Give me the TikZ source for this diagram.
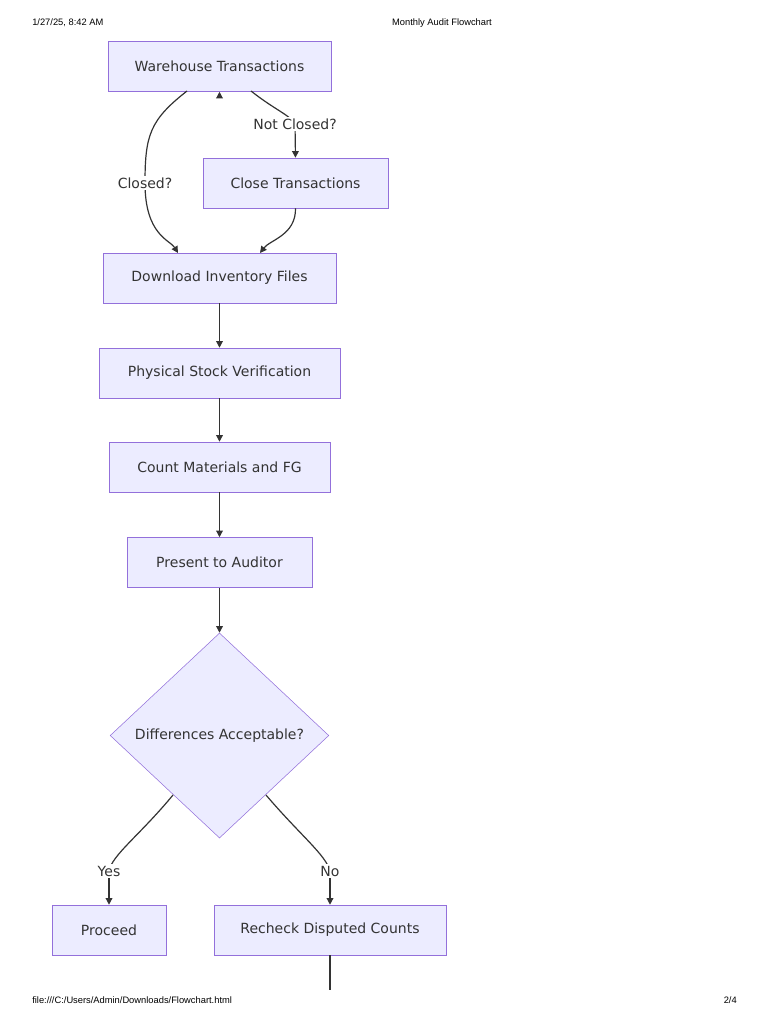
\documentclass[tikz,border=0pt]{standalone}
\usepackage{fontspec}
\setmainfont{DejaVu Sans}
\newfontfamily\hdr{Liberation Sans}
\usetikzlibrary{shapes.geometric,arrows.meta}
\definecolor{nfill}{HTML}{ECECFF}
\definecolor{nline}{HTML}{9370DB}
\definecolor{txt}{HTML}{333333}
\begin{document}
\begin{tikzpicture}[x=0.75pt,y=-0.75pt,
 box/.style={draw=nline,fill=nfill,text=txt,font=\fontsize{10.5}{12}\selectfont,inner sep=0pt,minimum height=37.5pt},
 lab/.style={fill=white,text=txt,font=\fontsize{10.5}{12}\selectfont,inner sep=1.5pt},
 hd/.style={font=\hdr\fontsize{7}{8}\selectfont,inner sep=0pt},
 arr/.style={draw=txt,line width=0.9pt,-{Triangle[length=5pt,width=5pt]}},
 ln/.style={draw=txt,line width=0.9pt}]
\useasboundingbox (0,0) rectangle (768,1024);
\node[hd,anchor=west] (h1) at (32,23) {1/27/25, 8:42 AM};
\node[hd] (h2) at (442,23) {Monthly Audit Flowchart};
\node[hd,anchor=west] (f1) at (32,1000) {file:///C:/Users/Admin/Downloads/Flowchart.html};
\node[hd,anchor=east] (f2) at (737,1000) {2/4};
\node[box,minimum width=167pt] (wt) at (219.5,66.5) {Warehouse Transactions};
\node[box,minimum width=138.75pt] (ct) at (295.5,183) {Close Transactions};
\node[box,minimum width=174.75pt] (di) at (219.5,278) {Download Inventory Files};
\node[box,minimum width=180.75pt] (ps) at (219.5,373) {Physical Stock Verification};
\node[box,minimum width=165.75pt] (cm) at (219.5,467) {Count Materials and FG};
\node[box,minimum width=138.75pt] (pa) at (219.5,562.5) {Present to Auditor};
\node[draw=nline,fill=nfill,text=txt,diamond,font=\fontsize{10.5}{12}\selectfont,minimum width=164pt,minimum height=153.75pt,inner sep=0pt] (da) at (219.5,735.5) {Differences Acceptable?};
\node[box,minimum width=85.5pt] (pr) at (109,930) {Proceed};
\node[box,minimum width=174pt] (rc) at (330,930) {Recheck Disputed Counts};
\coordinate (end) at (330,990);
\coordinate (cl) at (145,183);
\coordinate (nc) at (295,124);
\coordinate (ys) at (109,871);
\coordinate (no) at (330,871);
\draw[ln] (187,91) .. controls (150,120) and (145,135) .. (cl);
\draw[arr] (cl) .. controls (145,235) and (170,240) .. (178,253);
\node[lab] (lc) at (cl) {Closed?};
\draw[ln] (251,91) .. controls (275,110) and (290,115) .. (nc);
\draw[arr] (nc) -- (ct.north);
\node[lab] (lnc) at (nc) {Not Closed?};
\draw[arr] (ct.south) .. controls (296,235) and (270,240) .. (260,253);
\draw[arr] (wt.south) ++(0,0);
\draw[arr] (di) -- (ps);
\draw[arr] (ps) -- (cm);
\draw[arr] (cm) -- (pa);
\draw[arr] (pa) -- (da.north);
\draw[ln] (173,795) .. controls (140,835) and (112,855) .. (ys);
\draw[arr] (ys) -- (pr.north);
\node[lab] (ly) at (ys) {Yes};
\draw[ln] (266,795) .. controls (300,835) and (326,855) .. (no);
\draw[arr] (no) -- (rc.north);
\node[lab] (ln) at (no) {No};
\draw[ln] (rc.south) -- (end);
\end{tikzpicture}
\end{document}
